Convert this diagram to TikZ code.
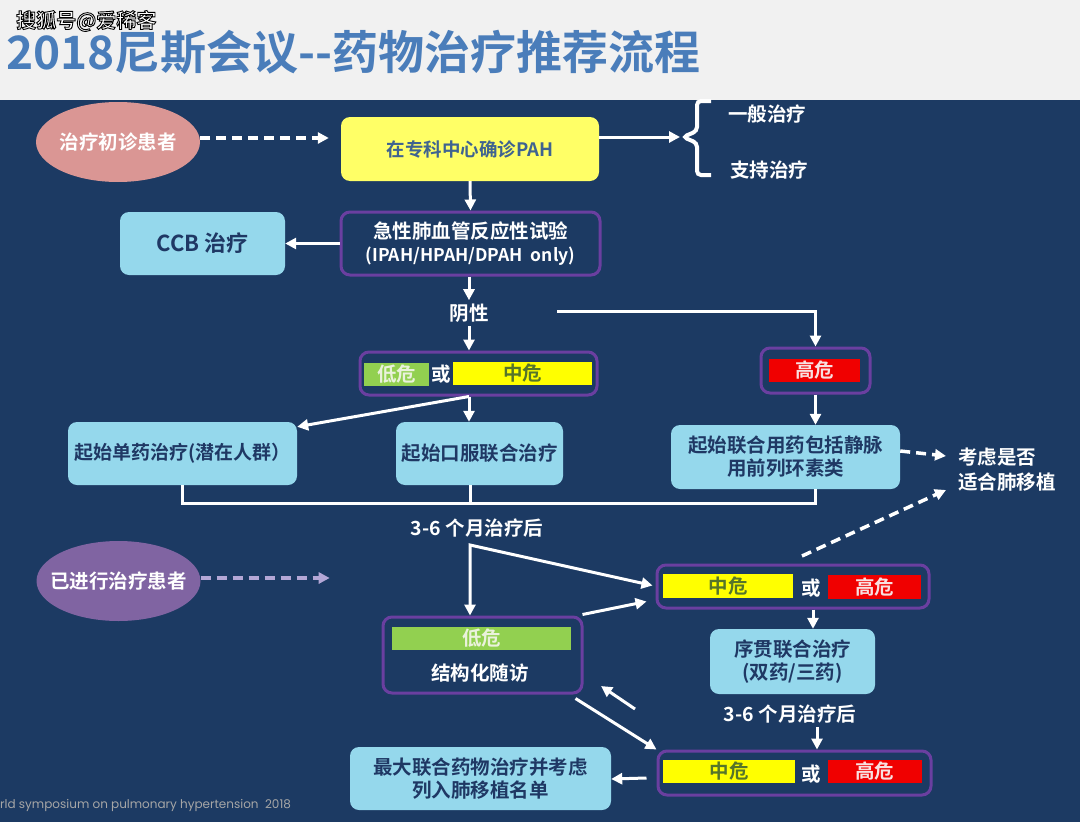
\documentclass[tikz,border=0pt]{standalone}
\usepackage{fontspec}
\setmainfont{Noto Sans CJK SC}[BoldFont={Noto Sans CJK SC Bold}]
\newfontfamily\footfont{Poppins}
\usetikzlibrary{shapes.geometric,arrows.meta,calc}
\definecolor{navy}{HTML}{1C3A63}
\definecolor{topbg}{HTML}{F1F1F1}
\definecolor{titleblue}{HTML}{4A7DBA}
\definecolor{lblue}{HTML}{95D8EC}
\definecolor{boxtxt}{HTML}{1F3864}
\definecolor{purp}{HTML}{6A3FA0}
\definecolor{pahyellow}{HTML}{FFFF66}
\definecolor{pahtxt}{HTML}{3F6390}
\definecolor{riskgreen}{HTML}{92D050}
\definecolor{riskyellow}{HTML}{FFFF00}
\definecolor{riskred}{HTML}{F00000}
\definecolor{midtxt}{HTML}{55752A}
\definecolor{hitxt}{HTML}{F8E0E0}
\definecolor{lowtxt}{HTML}{EAF2DC}
\definecolor{pinkell}{HTML}{DA9694}
\definecolor{purpell}{HTML}{8064A2}
\definecolor{lavender}{HTML}{B4A7D6}
\definecolor{footgray}{HTML}{A6A6A6}
\newcommand\lbl{\fontsize{19.5}{23}\selectfont\bfseries}
\newcommand\outlinetext[1]{\special{pdf:literal direct 2 Tr 0.9 w 0 0 0 RG}#1\special{pdf:literal direct 0 Tr}}
\begin{document}
\begin{tikzpicture}[x=1pt,y=-1pt,
  line/.style={draw=white,line width=3pt},
  arr/.style={line,-{Triangle[length=11pt,width=11pt]}},
  darr/.style={draw=white,line width=3.5pt,dash pattern=on 10pt off 6pt,-{Triangle[length=11pt,width=11pt]}},
  lbox/.style={rectangle,rounded corners=9pt,fill=lblue,text=boxtxt,font=\lbl,align=center,inner sep=0pt},
  pbox/.style={rectangle,rounded corners=9pt,draw=purp,line width=3pt,fill=navy,inner sep=0pt},
  wtext/.style={text=white,font=\lbl,align=center},
  bar/.style={rectangle,inner sep=0pt,font=\lbl},
  ell/.style={ellipse,inner sep=0pt,minimum width=164pt,minimum height=80pt,text=white,font=\lbl}
]
\useasboundingbox (0,0) rectangle (1080,822);
\fill[topbg] (0,0) rectangle (1080,100);
\fill[navy] (0,100) rectangle (1080,822);

% title and watermark
\node[anchor=west,inner sep=0pt,text=titleblue,font=\fontsize{46}{50}\selectfont\bfseries] (title) at (6,52) {2018尼斯会议-{}-药物治疗推荐流程};
\node[anchor=west,inner sep=0pt,text=white,font=\fontsize{20}{22}\selectfont\bfseries] (wm) at (16,21) {\outlinetext{搜狐号@爱稀客}};

% top row
\node[ell,fill=pinkell] (e1) at (118,142) {\makebox[100pt][c]{治疗初诊患者}};
\node[rectangle,rounded corners=9pt,fill=pahyellow,text=pahtxt,font=\fontsize{18.5}{22}\selectfont\bfseries,minimum width=258pt,minimum height=64pt,inner sep=0pt] (pah) at (470,149) {在专科中心确诊PAH};
\coordinate (btip) at (680,137);
\node[wtext] (g1) at (767,114) {一般治疗};
\node[wtext] (g2) at (769,170) {支持治疗};

% acute test
\node[pbox,minimum width=259pt,minimum height=63pt,text=white,font=\lbl,align=center] (acute) at (470.5,243.5) {急性肺血管反应性试验\\{\fontsize{17.5}{23}\selectfont(IPAH/HPAH/DPAH\ \ only)}};
\node[lbox,minimum width=165pt,minimum height=63pt,font=\fontsize{22}{24}\selectfont\bfseries] (ccb) at (202.5,243.5) {CCB 治疗};
\node[wtext] (neg) at (469,313) {阴性};
\coordinate (hs) at (557,311);

% risk boxes (first)
\node[pbox,minimum width=237pt,minimum height=43pt] (lm) at (478.5,373.5) {};
\node[bar,fill=riskgreen,text=lowtxt,minimum width=65pt,minimum height=23pt] (lowg) at (396.5,374.5) {低危};
\node[wtext] (or1) at (441,374) {或};
\node[bar,fill=riskyellow,text=midtxt,minimum width=139pt,minimum height=23pt] (midy) at (522.5,373.5) {中危};
\node[pbox,minimum width=109pt,minimum height=45pt] (hi) at (815.5,370.5) {};
\node[bar,fill=riskred,text=hitxt,minimum width=91pt,minimum height=23pt] (hired) at (814.5,370.5) {高危};

% initial therapies
\node[lbox,minimum width=229pt,minimum height=63pt,font=\fontsize{19}{23}\selectfont\bfseries] (mono) at (182.5,453.5) {起始单药治疗(潜在人群）};
\node[lbox,minimum width=167pt,minimum height=63pt] (oral) at (479.5,453.5) {起始口服联合治疗};
\node[lbox,minimum width=229pt,minimum height=64pt] (ivc) at (785.5,457) {起始联合用药包括静脉\\用前列环素类};
\node[anchor=west,inner sep=0pt,text=white,font=\fontsize{19.5}{25}\selectfont\bfseries,align=left] (lung) at (958,470) {考虑是否\\适合肺移植};
\coordinate (bus) at (470,503);
\node[wtext] (t36a) at (477,528) {3-6 个月治疗后};
\coordinate (c36) at (470,545);
\coordinate (ds) at (802,556);

% follow-up patients
\node[ell,fill=purpell] (e2) at (118.5,581) {\makebox[110pt][c]{已进行治疗患者}};
\node[pbox,minimum width=272pt,minimum height=43pt] (mh1) at (793,586.5) {};
\node[bar,fill=riskyellow,text=midtxt,minimum width=130pt,minimum height=24pt] (mh1y) at (728,586) {中危};
\node[wtext] (or2) at (811,588) {或};
\node[bar,fill=riskred,text=hitxt,minimum width=93pt,minimum height=24pt] (mh1r) at (874.5,587) {高危};

\node[pbox,minimum width=199pt,minimum height=76pt] (low) at (482.5,655) {};
\node[bar,fill=riskgreen,text=lowtxt,minimum width=179pt,minimum height=23pt] (lowbar) at (481.5,638.5) {低危};
\node[wtext] (follow) at (480,673) {结构化随访};

\node[lbox,minimum width=165pt,minimum height=65pt] (seq) at (792.5,661.5) {序贯联合治疗\\(双药/三药)};
\node[wtext] (t36b) at (790,714) {3-6 个月治疗后};

\node[pbox,minimum width=273pt,minimum height=44pt] (mh2) at (794.5,773) {};
\node[bar,fill=riskyellow,text=midtxt,minimum width=132pt,minimum height=23pt] (mh2y) at (729,771.5) {中危};
\node[wtext] (or3) at (811,774) {或};
\node[bar,fill=riskred,text=hitxt,minimum width=94pt,minimum height=23pt] (mh2r) at (874.5,771.5) {高危};

\node[lbox,minimum width=261pt,minimum height=63pt] (maxc) at (480.5,778.5) {最大联合药物治疗并考虑\\列入肺移植名单};
\coordinate (sa1) at (635,709);
\coordinate (sa2) at (601,686);

\node[anchor=west,inner sep=0pt,text=footgray,font=\footfont\fontsize{12}{14}\selectfont] (foot) at (0,805) {rld symposium on pulmonary hypertension\ \ 2018};

% connectors
\draw[darr] ($(e1.east)+(0,-4)$) -- ($(pah.west)+(-12,-11)$);
\draw[arr] ($(pah.east)+(0,-12)$) -- (btip);
\draw[white,line width=4pt,rounded corners=4pt] (711,101) -- (697,101) -- (697,131) -- (683,137) -- (697,143) -- (697,175) -- (711,175);
\draw[arr] (pah.south) -- (acute.north);
\draw[arr] (acute.west) -- (ccb.east);
\draw[arr] (acute.south -| neg.north) -- (neg.north);
\draw[arr] (neg.south) -- (neg.south |- lm.north);
\draw[arr] (hs) -| (hi.north);
\draw[arr] (lm.south -| neg.south) -- (oral.north -| neg.south);
\draw[arr] (lm.south -| neg.south) -- ($(mono.north east)+(0,5)$);
\draw[arr] (hi.south) -- (ivc.north -| hi.south);
\draw[darr] ($(ivc.east)+(0,-6)$) -- ($(lung.west)+(-12,-14)$);
\draw[darr] (ds) -- ($(lung.west)+(-12,20)$);
\draw[line] (mono.south) |- (bus) -| (ivc.south -| hi.south);
\draw[line] (oral.south -| bus) -- (bus);
\draw[line,{Triangle[length=11pt,width=11pt]}-{Triangle[length=11pt,width=11pt]}] (c36 |- low.north) -- (c36) -- ($(mh1.west)+(-3,-1)$);
\draw[darr,draw=lavender] ($(e2.east)+(0,-3)$) -- ($(e2.east)+(129,-3)$);
\draw[arr] ($(low.north east)+(-1,-1)$) -- ($(mh1.west)+(-9,15)$);
\draw[arr] ($(mh1.south)+(20,0)$) coordinate (a1) -- (a1 |- seq.north);
\draw[arr] ($(t36b.south)+(27,0)$) coordinate (a2) -- (a2 |- mh2.north);
\draw[arr] ($(low.south east)+(-8,4)$) -- (mh2.north west);
\draw[arr] (sa1) -- (sa2);
\draw[arr] ($(mh2.west)+(-10,5)$) -- ($(maxc.east)+(0,0.5)$);
\end{tikzpicture}
\end{document}
